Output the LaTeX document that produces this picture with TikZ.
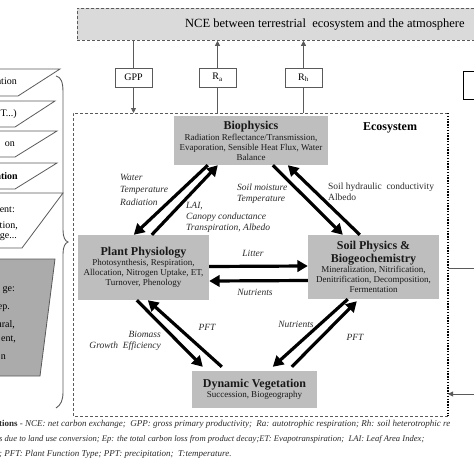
\documentclass[tikz,border=0pt]{standalone}
\usepackage{fontspec}
\setmainfont{Liberation Serif}
\usetikzlibrary{arrows.meta,calc}
\definecolor{boxgray}{HTML}{BEBEBE}
\definecolor{ncegray}{HTML}{DADADA}
\definecolor{leftgray}{HTML}{ABABAB}
\definecolor{linegray}{HTML}{5A5A5A}
\definecolor{labelcol}{HTML}{2A2A2A}
\newcommand\boxtitle[1]{{\fontsize{12}{13}\selectfont\bfseries #1}}
\begin{document}
\begin{tikzpicture}[x=1pt,y=-1pt,
  procbox/.style={fill=boxgray,draw=none,inner sep=0pt,align=center,text=black!90,font=\fontsize{9}{10}\selectfont},
  fluxbox/.style={draw=linegray,fill=white,line width=0.7pt,inner sep=0pt,minimum width=37pt,minimum height=19pt,font=\fontsize{10}{11}\selectfont},
  bigarrow/.style={line width=3.2pt,-{Triangle[length=10.5pt,width=11.5pt]}},
  smallarrow/.style={draw=linegray,line width=0.8pt,-{Triangle[length=5pt,width=5pt]}},
  thinline/.style={draw=linegray,line width=0.8pt},
  lbl/.style={font=\fontsize{9.5}{11}\selectfont\itshape,text=labelcol,inner sep=0pt,align=left},
  stackshape/.style={draw=linegray,line width=0.8pt,fill=white},
  stacktext/.style={font=\fontsize{10}{11}\selectfont,inner sep=0pt,anchor=east},
  capt/.style={font=\fontsize{9}{10}\selectfont,inner sep=0pt,anchor=base west,text=labelcol}
]
\useasboundingbox (0,0) rectangle (474,474);
\clip (0,0) rectangle (474,474);

% NCE box
\node[fill=ncegray,draw=linegray,dashed,dash pattern=on 3pt off 2pt,line width=0.8pt,inner sep=0pt,
  minimum width=420pt,minimum height=32pt,anchor=north west,font=\fontsize{12.5}{14}\selectfont] (nce) at (77,8) {};
\node[inner sep=0pt,font=\fontsize{12.5}{14}\selectfont,anchor=west] (ncetext) at (185,25) {NCE between terrestrial\ \ ecosystem and the atmosphere};

% Ecosystem frame
\coordinate (ecoNW) at (73,113);
\coordinate (ecoNE) at (448,113);
\coordinate (ecoSE) at (448,416);
\coordinate (ecoSW) at (73,416);
\draw[linegray,line width=0.8pt,dash pattern=on 3pt off 2pt] (ecoNE) -- (ecoNW) -- (ecoSW) -- (ecoSE);
\draw[black,line width=1.6pt,dash pattern=on 1.4pt off 1.4pt] (ecoNE) -- (ecoSE);
\node[inner sep=0pt,font=\fontsize{12}{13}\selectfont\bfseries] (ecolabel) at (390,128) {Ecosystem};

% process boxes
\node[procbox,minimum width=154pt,minimum height=49pt] (bio) at (251,140.5)
 {\boxtitle{Biophysics}\\[1pt] Radiation Reflectance/Transmission,\\ Evaporation, Sensible Heat Flux, Water\\ Balance};
\node[procbox,minimum width=131pt,minimum height=65pt] (plant) at (143.5,267.5)
 {\boxtitle{Plant Physiology}\\ Photosynthesis, Respiration,\\ Allocation, Nitrogen Uptake, ET,\\ Turnover, Phenology};
\node[procbox,minimum width=131pt,minimum height=64pt] (soil) at (373.5,267)
 {\boxtitle{Soil Physics \&}\\[1pt] \boxtitle{Biogeochemistry}\\ Mineralization, Nitrification,\\ Denitrification, Decomposition,\\ Fermentation};
\node[procbox,minimum width=125pt,minimum height=37pt] (dv) at (254.5,389.5)
 {\boxtitle{Dynamic Vegetation}\\ Succession, Biogeography};

% flux boxes
\node[fluxbox] (gpp) at (133.5,77.5) {GPP};
\node[fluxbox] (ra) at (217.5,77.5) {R\textsubscript{a}};
\node[fluxbox] (rh) at (303.5,77.5) {R\textsubscript{h}};
\draw[thinline] (gpp.north |- nce.south) -- (gpp.north);
\draw[smallarrow] (gpp.south) -- (gpp.south |- ecoNW);
\draw[thinline] (ra.south |- ecoNW) -- (ra.south);
\draw[smallarrow] (ra.north) -- (ra.north |- nce.south);
\draw[thinline] (rh.south |- ecoNW) -- (rh.south);
\draw[smallarrow] (rh.north) -- (rh.north |- nce.south);

% right side
\node[draw=black,line width=1.3pt,inner sep=0pt,minimum width=30pt,minimum height=28pt,anchor=north west] (rbox) at (463,71) {};
\coordinate (rout) at (480,268);
\coordinate (rin) at (480,394);
\draw[thinline] (ecoNE |- rout) -- (rout);
\draw[smallarrow] (rin) -- (ecoNE |- rin);

% thick arrows
\draw[bigarrow] ($(bio.south west)+(34,0)$) -- ($(plant.north west)+(56,0)$);
\draw[bigarrow] ($(plant.north west)+(74,0)$) -- ($(bio.south west)+(44,0)$);
\draw[bigarrow] ($(bio.south west)+(99,0)$) -- ($(soil.north west)+(35,0)$);
\draw[bigarrow] ($(soil.north west)+(52,0)$) -- ($(bio.south west)+(114,0)$);
\draw[bigarrow] ($(plant.east)+(0,-1)$) -- ($(soil.west)+(0,-1)$);
\draw[bigarrow] ($(soil.west)+(0,13.5)$) -- ($(plant.east)+(0,13.5)$);
\draw[bigarrow] ($(plant.south west)+(59,0)$) -- ($(dv.north west)+(11,-4)$);
\draw[bigarrow] ($(dv.north west)+(30,-4)$) -- ($(plant.south west)+(70,0)$);
\draw[bigarrow] ($(soil.south west)+(40,0)$) -- ($(dv.north west)+(81,-4)$);
\draw[bigarrow] ($(dv.north west)+(100,-4)$) -- ($(soil.south west)+(49,2)$);

% labels
\node[lbl,anchor=west,font=\fontsize{9.5}{12.5}\selectfont\itshape] (l1) at (120,189.5) {Water\\ Temperature\\ Radiation};
\node[lbl,anchor=west] (l2) at (186,217.5) {LAI,\\ Canopy conductance\\ Transpiration, Albedo};
\node[lbl,anchor=west] (l3) at (237,193.5) {Soil moisture\\ Temperature};
\node[lbl,anchor=west,font=\fontsize{9.5}{11}\selectfont] (l4) at (328,191.5) {Soil hydraulic\ \ conductivity\\ Albedo};
\node[lbl] (l5) at (253,253) {Litter};
\node[lbl] (l6) at (255,292) {Nutrients};
\node[lbl] (l7) at (207,327) {PFT};
\node[lbl] (l8) at (296,324) {Nutrients};
\node[lbl] (l9) at (355,337) {PFT};
\node[lbl,anchor=east,align=right] (l10) at (161,341) {Biomass\\ Growth\ \ Efficiency};

% left stack
\draw[stackshape] (-5,69) -- (60,69) -- (18,96) -- (-5,96);
\draw[stackshape] (-5,101) -- (55,101) -- (15,127) -- (-5,127);
\draw[stackshape] (-5,131) -- (57,131) -- (15,157) -- (-5,157);
\draw[stackshape] (-5,163) -- (57,163) -- (15,189) -- (-5,189);
\draw[stackshape] (-5,193) -- (63,193) -- (22,248) -- (-5,248);
\draw[stackshape,fill=leftgray] (-5,259) -- (55,259) -- (40,376) -- (-5,376);
\node[stacktext] (s1) at (17,81) {ation};
\node[stacktext] (s2) at (17,114) {T...)};
\node[stacktext] (s3) at (15,144) {on};
\node[stacktext,font=\fontsize{10}{11}\selectfont\bfseries] (s4) at (18,176) {ation};
\node[stacktext] (s5) at (15,210) {ent:};
\node[stacktext] (s6) at (18,226) {ation,};
\node[stacktext] (s7) at (17,237) {ge...};
\node[stacktext] (s8) at (15,290) {ge:};
\node[stacktext] (s9) at (10,308) {ep.};
\node[stacktext] (s10) at (15,325) {ural,};
\node[stacktext] (s11) at (16,339) {ent,};
\node[stacktext] (s12) at (6,357) {n};

% brace
\draw[linegray,line width=0.9pt] (56,76) .. controls (61,77) and (63,82) .. (63,92) -- (63,230)
  .. controls (63,237) and (65,241) .. (68,242) .. controls (65,243) and (63,247) .. (63,254)
  -- (63,392) .. controls (63,400) and (61,405) .. (56,408);

% caption
\node[capt] (c1) at (-1,426) {\textbf{tions} - \textit{NCE: net carbon exchange;\ \ GPP: gross primary productivity;\ \ Ra: autotrophic respiration; Rh: soil heterotrophic re}};
\node[capt,font=\fontsize{8.6}{10}\selectfont] (c2) at (-1,441) {\textit{s due to land use conversion; Ep: the total carbon loss from product decay;ET: Evapotranspiration;\ \ LAI: Leaf Area Index;}};
\node[capt] (c3) at (-1,456) {\textit{; PFT: Plant Function Type; PPT: precipitation;\ \ T:temperature.}};
\end{tikzpicture}
\end{document}
